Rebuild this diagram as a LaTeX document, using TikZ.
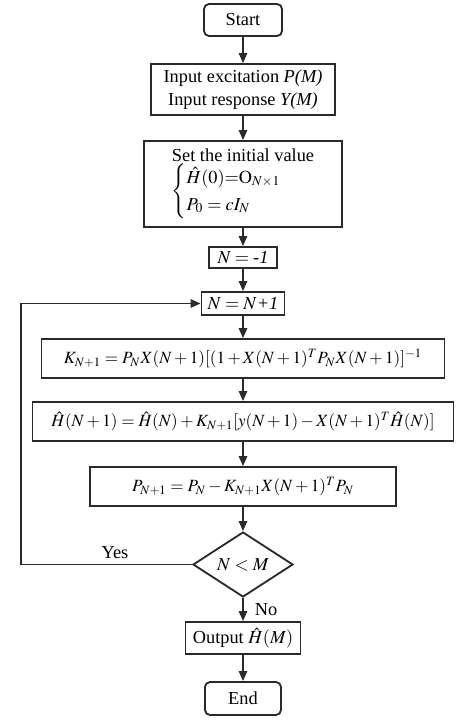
\documentclass[tikz,border=0pt]{standalone}
\usepackage{amsmath}
\usepackage{mathptmx}
\usepackage{fontspec}
\setmainfont{Liberation Serif}
\usetikzlibrary{arrows.meta,shapes.geometric}
\definecolor{ln}{HTML}{2A2A2A}

\begin{document}
\begin{tikzpicture}[x=0.6pt,y=-0.6pt,
  box/.style={draw=ln,line width=1.1pt,inner sep=0pt,font=\fontsize{11}{13.5}\selectfont},
  term/.style={box,rounded corners=3pt},
  eqbox/.style={box,minimum height=23.4pt,font=\fontsize{10.3}{13}\selectfont},
  arr/.style={draw=ln,line width=1.1pt,-{Triangle[width=5pt,length=6pt]}}]
\useasboundingbox (0,0) rectangle (474,720);
\node[term,minimum width=46.8pt,minimum height=19.2pt] (start) at (243,20) {Start};
\node[box,align=center,minimum width=110.4pt,minimum height=30.6pt] (input) at (243,89.5)
  {Input excitation \textit{P(M)}\\ Input response \textit{Y(M)}};
\node[box,align=left,minimum width=118.8pt,minimum height=51.6pt] (init) at (243,184)
  {Set the initial value\\ $\begin{cases}\hat{H}(0){=}\mathrm{O}_{N\times 1}\\ P_0=cI_N\end{cases}$};
\node[box,minimum width=40.8pt,minimum height=12.6pt] (set) at (243,257.5) {$N = \textit{-1}$};
\node[box,minimum width=49.8pt,minimum height=13.8pt] (inc) at (243,303.5) {$N = N\textit{+1}$};
\node[eqbox,minimum width=241.8pt] (gain) at (243,358.5)
  {$K_{N+1}=P_NX(N+1)[(1+X(N+1)^TP_NX(N+1)]^{-1}$};
\node[eqbox,minimum width=252.6pt] (est) at (243,421.5)
  {$\hat{H}(N+1)=\hat{H}(N)+K_{N+1}[y(N+1)-X(N+1)^T\hat{H}(N)]$};
\node[eqbox,minimum width=183.6pt] (cov) at (243,486.5)
  {$P_{N+1}=P_N-K_{N+1}X(N+1)^TP_N$};
\node[box,diamond,minimum width=60pt,minimum height=39pt] (cond) at (243,564.5) {$N<M$};
\node[box,minimum width=69pt,minimum height=19.2pt] (out) at (243,638) {Output $\hat{H}(M)$};
\node[term,minimum width=45.6pt,minimum height=19.8pt] (end) at (243,698.5) {End};
\coordinate (loop) at (21,564.5);
% arrows
\draw[arr] (start) -- (input);
\draw[arr] (input) -- (init);
\draw[arr] (init) -- (set);
\draw[arr] (set) -- (inc);
\draw[arr] (inc) -- (gain);
\draw[arr] (gain) -- (est);
\draw[arr] (est) -- (cov);
\draw[arr] (cov) -- (cond);
\draw[arr] (cond) -- (out);
\draw[arr] (out) -- (end);
\draw[arr] (cond.west) -- (loop) |- (inc.west);
\node[font=\fontsize{11}{13.5}\selectfont] (yes) at (115,553) {Yes};
\node[font=\fontsize{11}{13.5}\selectfont] (no) at (266,610) {No};
\end{tikzpicture}
\end{document}
